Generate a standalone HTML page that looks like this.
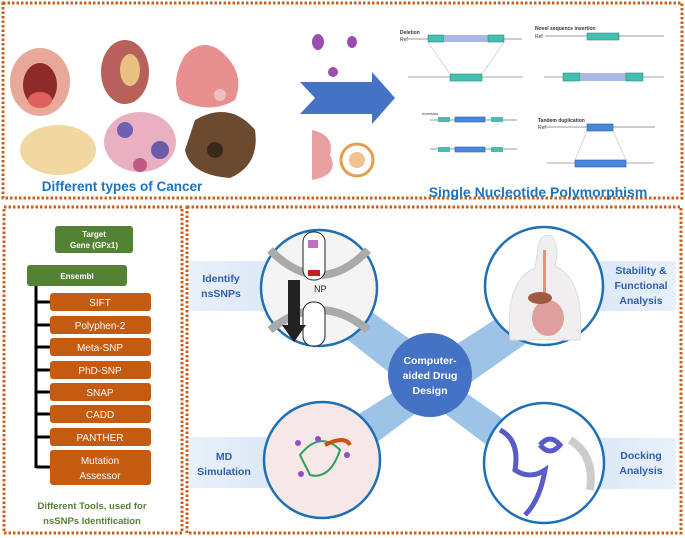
<!DOCTYPE html>
<html><head><style>
body{margin:0;background:#fff;}
svg{display:block;font-family:"Liberation Sans",sans-serif;}
</style></head><body>
<svg width="685" height="538" viewBox="0 0 685 538">
<defs>
<linearGradient id="bandL" x1="0" x2="1"><stop offset="0" stop-color="#e9f1fa"/><stop offset="1" stop-color="#dce8f6"/></linearGradient>
<linearGradient id="bandR" x1="1" x2="0"><stop offset="0" stop-color="#e9f1fa"/><stop offset="1" stop-color="#dce8f6"/></linearGradient>
</defs>
<g fill="none" stroke="#c8611e" stroke-width="3" stroke-dasharray="2.5 2">
<rect x="3" y="3" width="679" height="195"/>
<rect x="4" y="207" width="178" height="326"/>
<rect x="187" y="207" width="494" height="326"/>
</g>
<!-- cancer images -->
<ellipse cx="40" cy="82" rx="30" ry="34" fill="#e8a89a"/><ellipse cx="40" cy="85" rx="17" ry="22" fill="#8e2a2a"/><ellipse cx="40" cy="100" rx="12" ry="8" fill="#e06060"/>
<ellipse cx="125" cy="72" rx="24" ry="32" fill="#b8605a"/><ellipse cx="130" cy="70" rx="10" ry="16" fill="#e8c080"/>
<path d="M185 55 Q205 35 225 55 Q245 75 235 100 Q210 115 180 100 Q170 80 185 55Z" fill="#e89090"/><circle cx="220" cy="95" r="6" fill="#f0c0c0"/>
<ellipse cx="58" cy="150" rx="38" ry="25" fill="#f0d8a0"/>
<ellipse cx="140" cy="142" rx="36" ry="30" fill="#e8b0c0"/><circle cx="125" cy="130" r="8" fill="#7060b0"/><circle cx="160" cy="150" r="9" fill="#6a5aa8"/><circle cx="140" cy="165" r="7" fill="#c05a80"/>
<path d="M195 120 Q230 100 255 130 Q260 165 230 178 Q190 175 185 150Z" fill="#6b4a30"/><circle cx="215" cy="150" r="8" fill="#3a2818"/>
<text x="122" y="191" text-anchor="middle" font-size="13.5" font-weight="bold" fill="#1e73be">Different types of Cancer</text>
<ellipse cx="318" cy="42" rx="6" ry="8" fill="#9a4fae"/><ellipse cx="352" cy="42" rx="5" ry="6" fill="#9a4fae"/><ellipse cx="333" cy="72" rx="5" ry="5" fill="#9a4fae"/>
<path d="M312 130 Q335 135 330 155 Q340 175 312 180Z" fill="#e8a0a0"/>
<circle cx="357" cy="160" r="16" fill="#fff" stroke="#e0a050" stroke-width="3"/><circle cx="357" cy="160" r="8" fill="#f0c090"/>
<polygon points="300,82 372,82 372,72 395,98 372,124 372,114 300,114 315,98" fill="#4472c4"/>
<!-- SNP diagrams -->
<g font-size="5" fill="#333" stroke-width="0.6">
<text x="400" y="34" font-weight="bold">Deletion</text><text x="400" y="41">Ref</text>
<line x1="408" y1="39" x2="522" y2="39" stroke="#333"/>
<rect x="428" y="35" width="16" height="7" fill="#45bfb0" stroke="#2a8a80"/><rect x="444" y="35" width="44" height="7" fill="#aab8e6"/><rect x="488" y="35" width="16" height="7" fill="#45bfb0" stroke="#2a8a80"/>
<line x1="408" y1="77" x2="523" y2="77" stroke="#555"/>
<rect x="450" y="74" width="32" height="7" fill="#45bfb0" stroke="#2a8a80"/>
<line x1="428" y1="42" x2="450" y2="74" stroke="#bbb"/><line x1="504" y1="42" x2="482" y2="74" stroke="#bbb"/>
<text x="535" y="30" font-weight="bold">Novel sequence insertion</text><text x="535" y="38">Ref</text>
<line x1="545" y1="36" x2="664" y2="36" stroke="#333"/>
<rect x="587" y="33" width="32" height="7" fill="#45bfb0" stroke="#2a8a80"/>
<line x1="544" y1="77" x2="664" y2="77" stroke="#555"/>
<rect x="563" y="73" width="17" height="8" fill="#45bfb0" stroke="#2a8a80"/><rect x="580" y="73" width="46" height="8" fill="#aab8e6"/><rect x="626" y="73" width="17" height="8" fill="#45bfb0" stroke="#2a8a80"/>
<text x="422" y="115" font-size="4">Inversion</text>
<line x1="430" y1="120" x2="517" y2="120" stroke="#333"/>
<rect x="438" y="117" width="12" height="5" fill="#45bfb0"/><rect x="455" y="117" width="30" height="5" fill="#4a88d8" stroke="#2a5ab0"/><rect x="491" y="117" width="12" height="5" fill="#45bfb0"/>
<line x1="430" y1="149" x2="517" y2="149" stroke="#333"/>
<rect x="438" y="147" width="12" height="5" fill="#45bfb0"/><rect x="455" y="147" width="30" height="5" fill="#4a88d8" stroke="#2a5ab0"/><rect x="491" y="147" width="12" height="5" fill="#45bfb0"/>
<text x="538" y="122" font-weight="bold">Tandem duplication</text><text x="538" y="129">Ref</text>
<line x1="545" y1="127" x2="655" y2="127" stroke="#333"/>
<rect x="587" y="124" width="26" height="7" fill="#4a88d8" stroke="#2a5ab0"/>
<line x1="547" y1="163" x2="654" y2="163" stroke="#555"/>
<rect x="575" y="160" width="51" height="7" fill="#4a88d8" stroke="#2a5ab0"/>
<line x1="587" y1="131" x2="575" y2="160" stroke="#bbb"/><line x1="613" y1="131" x2="626" y2="160" stroke="#bbb"/>
</g>
<text x="538" y="197" text-anchor="middle" font-size="14" font-weight="bold" fill="#1e73be">Single Nucleotide Polymorphism</text>
<!-- left panel -->
<rect x="55" y="226" width="78" height="27" rx="3" fill="#548235"/>
<text x="94" y="237" text-anchor="middle" font-size="8" font-weight="bold" fill="#fff">Target</text>
<text x="94" y="248" text-anchor="middle" font-size="8" font-weight="bold" fill="#fff">Gene (GPx1)</text>
<rect x="27" y="265" width="100" height="21" rx="3" fill="#548235"/>
<text x="77" y="279" text-anchor="middle" font-size="8" font-weight="bold" fill="#fff">Ensembl</text>
<line x1="36" y1="286" x2="36" y2="468" stroke="#000" stroke-width="3"/>
<g font-size="10" fill="#fff" text-anchor="middle">
<g fill="#c55a11">
<rect x="50" y="293" width="101" height="18" rx="3"/><rect x="50" y="316" width="101" height="18" rx="3"/><rect x="50" y="338" width="101" height="18" rx="3"/><rect x="50" y="361" width="101" height="18" rx="3"/><rect x="50" y="383" width="101" height="18" rx="3"/><rect x="50" y="405" width="101" height="18" rx="3"/><rect x="50" y="428" width="101" height="18" rx="3"/><rect x="50" y="450" width="101" height="35" rx="3"/>
</g>
<g stroke="#000" stroke-width="3"><line x1="36" y1="302" x2="50" y2="302"/><line x1="36" y1="325" x2="50" y2="325"/><line x1="36" y1="347" x2="50" y2="347"/><line x1="36" y1="370" x2="50" y2="370"/><line x1="36" y1="392" x2="50" y2="392"/><line x1="36" y1="414" x2="50" y2="414"/><line x1="36" y1="437" x2="50" y2="437"/><line x1="36" y1="467" x2="50" y2="467"/></g>
<text x="100" y="306">SIFT</text><text x="100" y="329">Polyphen-2</text><text x="100" y="351">Meta-SNP</text><text x="100" y="374">PhD-SNP</text><text x="100" y="396">SNAP</text><text x="100" y="418">CADD</text><text x="100" y="441">PANTHER</text><text x="100" y="464">Mutation</text><text x="100" y="479">Assessor</text>
</g>
<text x="92" y="509" text-anchor="middle" font-size="9.5" font-weight="bold" fill="#548235">Different Tools, used for</text>
<text x="92" y="524" text-anchor="middle" font-size="9.5" font-weight="bold" fill="#548235">nsSNPs Identification</text>
<!-- right panel -->
<g fill="#9dc3e6">
<polygon points="355,300 335,330 405,385 425,350"/>
<polygon points="525,300 545,330 460,390 440,355"/>
<polygon points="340,470 310,445 405,385 420,410"/>
<polygon points="520,470 540,445 455,385 440,410"/>
</g>
<rect x="189" y="261" width="80" height="50" fill="url(#bandL)"/>
<rect x="596" y="261" width="80" height="50" fill="url(#bandR)"/>
<rect x="189" y="437" width="80" height="51" fill="url(#bandL)"/>
<rect x="596" y="438" width="80" height="51" fill="url(#bandR)"/>
<g font-size="10.5" font-weight="bold" fill="#2f5fa8" text-anchor="middle">
<text x="221" y="282">Identify</text><text x="221" y="297">nsSNPs</text>
<text x="641" y="274">Stability &amp;</text><text x="641" y="289">Functional</text><text x="641" y="304">Analysis</text>
<text x="224" y="460">MD</text><text x="224" y="475">Simulation</text>
<text x="641" y="459">Docking</text><text x="641" y="474">Analysis</text>
</g>
<circle cx="319" cy="288" r="58" fill="#f4f4f4" stroke="#1e6fb5" stroke-width="2.5"/>
<path d="M270 250 Q320 300 368 250 M270 330 Q320 290 368 330" stroke="#aaa" stroke-width="8" fill="none"/>
<rect x="303" y="232" width="22" height="48" rx="10" fill="#fff" stroke="#222"/>
<rect x="303" y="302" width="22" height="44" rx="10" fill="#fff" stroke="#222"/>
<rect x="308" y="240" width="10" height="8" fill="#c070c0"/><rect x="308" y="270" width="12" height="6" fill="#c02020"/>
<polygon points="288,280 300,280 300,325 306,325 294,342 282,325 288,325" fill="#222"/>
<text x="314" y="292" font-size="9" fill="#222">NP</text>
<circle cx="544" cy="286" r="59" fill="#fff" stroke="#1e6fb5" stroke-width="2.5"/>
<path d="M510 340 Q505 280 535 268 L538 248 Q540 232 552 236 Q560 248 555 266 Q585 280 580 340Z" fill="#f0eeee" stroke="#ddd"/>
<rect x="543" y="250" width="3" height="45" fill="#e89080"/>
<ellipse cx="548" cy="318" rx="16" ry="18" fill="#e0a0a0"/><ellipse cx="540" cy="298" rx="12" ry="6" fill="#a05a40"/>
<circle cx="322" cy="460" r="58" fill="#f7e8e8" stroke="#1e6fb5" stroke-width="2.5"/>
<path d="M300 455 Q320 430 340 450 Q330 480 310 475Z" fill="none" stroke="#30a060" stroke-width="2"/>
<path d="M325 445 Q345 435 350 445" stroke="#d05010" stroke-width="4" fill="none"/>
<circle cx="298" cy="443" r="3" fill="#9050c0"/><circle cx="318" cy="439" r="3" fill="#9050c0"/><circle cx="347" cy="455" r="3" fill="#9050c0"/><circle cx="301" cy="474" r="3" fill="#9050c0"/>
<circle cx="544" cy="463" r="60" fill="#fff" stroke="#1e6fb5" stroke-width="2.5"/>
<path d="M500 430 Q520 440 515 470 Q530 480 545 470 Q540 500 525 515 M540 445 q10 -12 20 0 q-10 12 -20 0" stroke="#5a5ac8" stroke-width="5" fill="none"/>
<path d="M570 440 Q595 455 590 490" stroke="#ccc" stroke-width="8" fill="none"/>
<circle cx="430" cy="375" r="42" fill="#4472c4"/>
<g font-size="10.5" font-weight="bold" fill="#fff" text-anchor="middle">
<text x="430" y="364">Computer-</text><text x="430" y="379">aided Drug</text><text x="430" y="394">Design</text>
</g>
</svg>
</body></html>
